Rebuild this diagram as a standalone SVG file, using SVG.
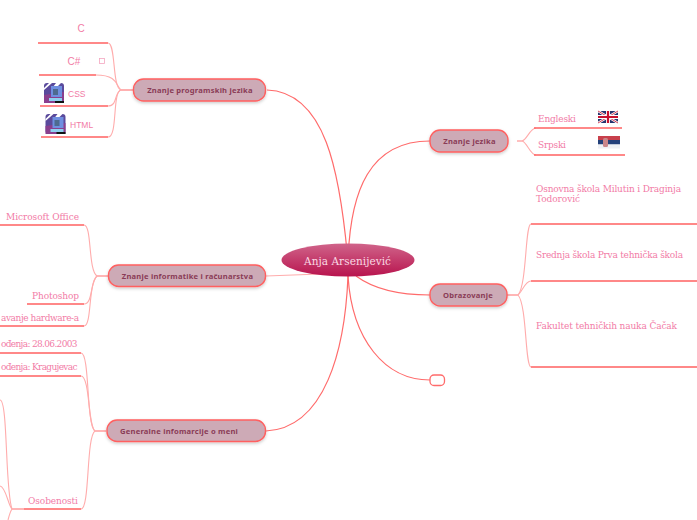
<svg xmlns="http://www.w3.org/2000/svg" width="697" height="520" viewBox="0 0 697 520">
<defs>
<linearGradient id="rootG" x1="0" y1="0" x2="0" y2="1"><stop offset="0" stop-color="#d0648a"/><stop offset="1" stop-color="#b8144e"/></linearGradient>
<filter id="sh" x="-10%" y="-20%" width="120%" height="150%"><feDropShadow dx="0" dy="1.500" stdDeviation="1.500" flood-color="#000" flood-opacity="0.2"/></filter>
<g id="pc"><rect x="0" y="0" width="20" height="20" rx="3" fill="#5a4a9c"/><path d="M0 12 L20 9 V20 H0Z" fill="#8a3f8e"/><path d="M0 5 L5 0 H8 L0 7Z M12 0 H17 L13 4 H9Z" fill="#fff"/><rect x="7" y="3" width="11" height="11" fill="#6f8fe0"/><rect x="9" y="6" width="5" height="6" fill="#4d6a90"/><rect x="5" y="15" width="13" height="3" fill="#8fd0f0"/><rect x="11" y="18" width="9" height="2" fill="#111"/></g>
</defs>
<style>
.c1{fill:none;stroke:#ff6b6b;stroke-width:1.200}
.c2{fill:none;stroke:#ffacac;stroke-width:1.100}
.u{fill:none;stroke:#ff6060;stroke-width:1.500}
.t{fill:#cdaab6;stroke:#ff6060;stroke-width:1.400;filter:url(#sh)}
.tl{font-family:"Noto Sans","Open Sans",sans-serif;font-weight:700;font-size:7.600px;fill:#8a3c56;letter-spacing:.22px}
.l{font-family:"DejaVu Serif","Liberation Serif",serif;font-size:9px;fill:#f27ba6}
.s{font-family:"Liberation Sans",Arial,sans-serif;font-size:10px;fill:#f27ba6}
.s2{font-family:"Liberation Sans",Arial,sans-serif;font-size:8.500px;fill:#f27ba6}
</style>
<g id="connectors">
<path class="c1" d="M348 262 C340 170 325 92 267 90"/>
<path class="c1" d="M348 262 C350 190 370 141 430 141"/>
<path class="c1" d="M356 276 C375 290 400 295 430 295"/>
<path class="c1" d="M348 276 C352 340 385 380 430 380"/>
<path class="c2" d="M266 276 L320 274"/>
<path class="c1" d="M348 276 C345 350 325 428 266 431"/>
<path class="c2" d="M133 90 L121 90 C112 88 116 43 108 43"/>
<path class="c2" d="M133 90 L121 90 C116 86 118 75 96 75"/>
<path class="c2" d="M133 90 L121 90 C114 92 118 106 108 106"/>
<path class="c2" d="M133 90 L121 90 C112 92 118 137 108 137"/>
<path class="c2" d="M108 276 L97 276 C88 270 92 225 84 225"/>
<path class="c2" d="M108 276 L97 276 C90 282 93 304 84 304"/>
<path class="c2" d="M108 276 L97 276 C88 284 92 326 84 326"/>
<path class="c2" d="M106 431 L95 431 C86 425 90 353 81 353"/>
<path class="c2" d="M106 431 L95 431 C88 427 90 376 81 376"/>
<path class="c2" d="M106 431 L95 431 C86 437 90 509 81 509"/>
<path class="c2" d="M24 509 L12 509 C5 490 8 400 0 400"/>
<path class="c2" d="M24 509 L12 509 C8 505 6 487 0 486"/>
<path class="c2" d="M24 509 L12 509 C10 512 9 516 8 520"/>
<path class="c2" d="M517 141 L522 141 C527 140 530 128 536 128"/>
<path class="c2" d="M517 141 L522 141 C527 142 530 155 536 155"/>
<path class="c2" d="M507 295 L518 295 C527 285 525 224 531 224"/>
<path class="c2" d="M507 295 L518 295 C522 292 525 281 531 281"/>
<path class="c2" d="M507 295 L518 295 C527 305 525 367 531 367"/>
</g>
<g id="node-root"><ellipse cx="348" cy="260" rx="66.500" ry="16.500" fill="url(#rootG)"/><text x="304" y="264.500" font-family="DejaVu Serif,Liberation Serif,serif" font-size="10.500" fill="#fbd9e4" textLength="87">Anja Arsenijević</text></g>
<g id="node-programski"><rect class="t" x="133.500" y="79" width="132" height="22" rx="10"/><text class="tl" x="200" y="92.800" text-anchor="middle">Znanje programskih jezika</text></g>
<g id="node-c"><text class="s" x="81" y="32" text-anchor="middle">C</text><path class="u" d="M38 43 H108"/></g>
<g id="node-csharp"><text class="s" x="74" y="65" text-anchor="middle">C#</text><rect x="99.500" y="58.500" width="5" height="5" fill="none" stroke="#f4a6c0" stroke-width=".8"/><path class="u" d="M39 75 H96"/></g>
<g id="node-css"><use href="#pc" x="44" y="83"/><text class="s2" x="68" y="97">CSS</text><path class="u" d="M40 106 H108"/></g>
<g id="node-html"><use href="#pc" x="45.500" y="114"/><text class="s2" x="70" y="128">HTML</text><path class="u" d="M41 137 H108"/></g>
<g id="node-informatika"><rect class="t" x="108.500" y="265" width="157" height="21.500" rx="10"/><text class="tl" x="187.500" y="278.800" text-anchor="middle">Znanje informatike i računarstva</text></g>
<g id="node-office"><text class="l" x="6" y="220" textLength="73">Microsoft Office</text><path class="u" d="M0 225 H84"/></g>
<g id="node-photoshop"><text class="l" x="32" y="299" textLength="47">Photoshop</text><path class="u" d="M27 304 H84"/></g>
<g id="node-hardware"><text class="l" x="1" y="321" textLength="78">avanje hardware-a</text><path class="u" d="M0 326 H84"/></g>
<g id="node-generalne"><rect class="t" x="107" y="420" width="158.500" height="21.500" rx="10"/><text class="tl" x="120" y="433.800">Generalne infomarcije o meni</text></g>
<g id="node-datum"><text class="l" x="1" y="347" textLength="76.500">ođenja: 28.06.2003</text><path class="u" d="M0 353 H81"/></g>
<g id="node-mesto"><text class="l" x="1" y="370" textLength="76.500">ođenja: Kragujevac</text><path class="u" d="M0 376 H81"/></g>
<g id="node-osobenosti"><text class="l" x="28" y="504" textLength="50">Osobenosti</text><path class="u" d="M24 509 H81"/></g>
<g id="node-jezik"><rect class="t" x="430" y="130" width="78" height="22" rx="10"/><text class="tl" x="469.500" y="143.800" text-anchor="middle">Znanje jezika</text></g>
<g id="node-engleski"><text class="l" x="538" y="122" textLength="38">Engleski</text><rect x="598" y="111" width="20" height="12" fill="#27336e"/><path d="M598 111 L618 123 M618 111 L598 123" stroke="#fff" stroke-width="2.400"/><path d="M598 111 L618 123 M618 111 L598 123" stroke="#c8102e" stroke-width=".8"/><path d="M608 111 V123 M598 117 H618" stroke="#fff" stroke-width="4"/><path d="M608 111 V123 M598 117 H618" stroke="#c8102e" stroke-width="2.200"/><path class="u" d="M534 128 H622"/></g>
<g id="node-srpski"><text class="l" x="538" y="148" textLength="28">Srpski</text><rect x="598" y="136" width="22" height="4" fill="#c8404c"/><rect x="598" y="140" width="22" height="4.500" fill="#23407a"/><rect x="598" y="144.500" width="22" height="4" fill="#eef0f4"/><rect x="603" y="138" width="5" height="9" rx="1.500" fill="#c9868a"/><path class="u" d="M534 155 H625"/></g>
<g id="node-obrazovanje"><rect class="t" x="430" y="284" width="77" height="22" rx="10"/><text class="tl" x="468" y="297.800" text-anchor="middle">Obrazovanje</text></g>
<g id="node-osnovna"><text class="l" x="536" y="192" textLength="145">Osnovna škola Milutin i Draginja</text><text class="l" x="536" y="202" textLength="44">Todorović</text><path class="u" d="M531 224 H697"/></g>
<g id="node-srednja"><text class="l" x="536" y="258" textLength="147">Srednja škola Prva tehnička škola</text><path class="u" d="M531 281 H697"/></g>
<g id="node-fakultet"><text class="l" x="536" y="329" textLength="141">Fakultet tehničkih nauka Čačak</text><path class="u" d="M531 367 H697"/></g>
<g id="node-prazan"><rect x="430" y="375" width="14.500" height="10.500" rx="4" fill="#fff" stroke="#ff6b6b" stroke-width="1.300"/></g>
</svg>
